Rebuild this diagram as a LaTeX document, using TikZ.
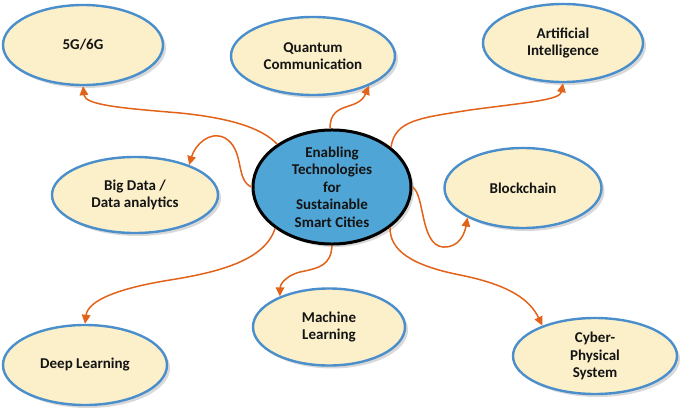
\documentclass[tikz,border=0pt]{standalone}
\usepackage{fontspec}
\setmainfont{Carlito}
\usetikzlibrary{shapes.geometric,shadows,arrows.meta}
\definecolor{creamfill}{HTML}{FCF0CA}
\definecolor{blueedge}{HTML}{4A8ECC}
\definecolor{hubfill}{HTML}{4FA5D5}
\definecolor{linkcol}{HTML}{E2621A}
\definecolor{txtcol}{HTML}{141414}
\tikzset{
  topic/.style={ellipse, draw=blueedge, line width=2.4pt, fill=creamfill,
    inner sep=0pt, align=center, text=txtcol,
    font=\fontsize{15}{17.5}\selectfont\bfseries,
    drop shadow={opacity=0.3, shadow xshift=3pt, shadow yshift=-3pt}},
  hub/.style={ellipse, draw=black, line width=3pt, fill=hubfill,
    inner sep=0pt, align=center, text=txtcol,
    font=\fontsize{15}{17.5}\selectfont\bfseries,
    drop shadow={opacity=0.3, shadow xshift=3pt, shadow yshift=-3pt}},
  link/.style={draw=linkcol, line width=1.5pt,
    -{Triangle[length=9pt,width=8.5pt]}}
}
\begin{document}
\begin{tikzpicture}[x=1pt,y=-1pt]
\useasboundingbox (0,0) rectangle (685,420);
\node[hub, minimum width=158pt, minimum height=96pt] (hub) at (332,187)
  {Enabling\\Technologies\\for\\Sustainable\\Smart Cities};
\node[topic, minimum width=160pt, minimum height=80pt] (g5) at (83,45) {5G/6G};
\node[topic, minimum width=164pt, minimum height=78pt] (qc) at (313,56) {Quantum\\Communication};
\node[topic, minimum width=160pt, minimum height=78pt] (ai) at (563,43) {Artificial\\Intelligence};
\node[topic, minimum width=166pt, minimum height=76pt] (bd) at (135,195) {Big Data /\\Data analytics};
\node[topic, minimum width=157pt, minimum height=80pt] (bc) at (523,188) {Blockchain};
\node[topic, minimum width=164pt, minimum height=80pt] (dl) at (85,365) {Deep Learning};
\node[topic, minimum width=152pt, minimum height=77pt] (ml) at (329,327) {Machine\\Learning};
\node[topic, minimum width=164pt, minimum height=76pt] (cps) at (595,356) {Cyber-\\Physical\\System};

\path[link] (hub.142) .. controls (262,128) and (230,118) .. (180,113)
  .. controls (120,108) and (85,105) .. (g5.south);
\path[link] (hub.92) .. controls (330,100) and (358,112) .. (qc.332);
\path[link] (hub.34) .. controls (395,120) and (420,118) .. (470,110)
  .. controls (530,102) and (560,100) .. (ai.south);
\path[link] (hub.180) .. controls (235,180) and (245,150) .. (225,138)
  .. controls (210,130) and (195,145) .. (bd.29);
\path[link] (hub.0) .. controls (425,195) and (420,245) .. (443,247)
  .. controls (460,248) and (465,232) .. (bc.208);
\path[link] (hub.216) .. controls (265,260) and (220,272) .. (170,280)
  .. controls (120,288) and (88,300) .. (dl.north);
\path[link] (hub.270) .. controls (331,265) and (320,268) .. (300,272)
  .. controls (285,276) and (280,285) .. (ml.148);
\path[link] (hub.325) .. controls (390,250) and (410,265) .. (460,275)
  .. controls (510,285) and (530,300) .. (cps.150);
\end{tikzpicture}
\end{document}
